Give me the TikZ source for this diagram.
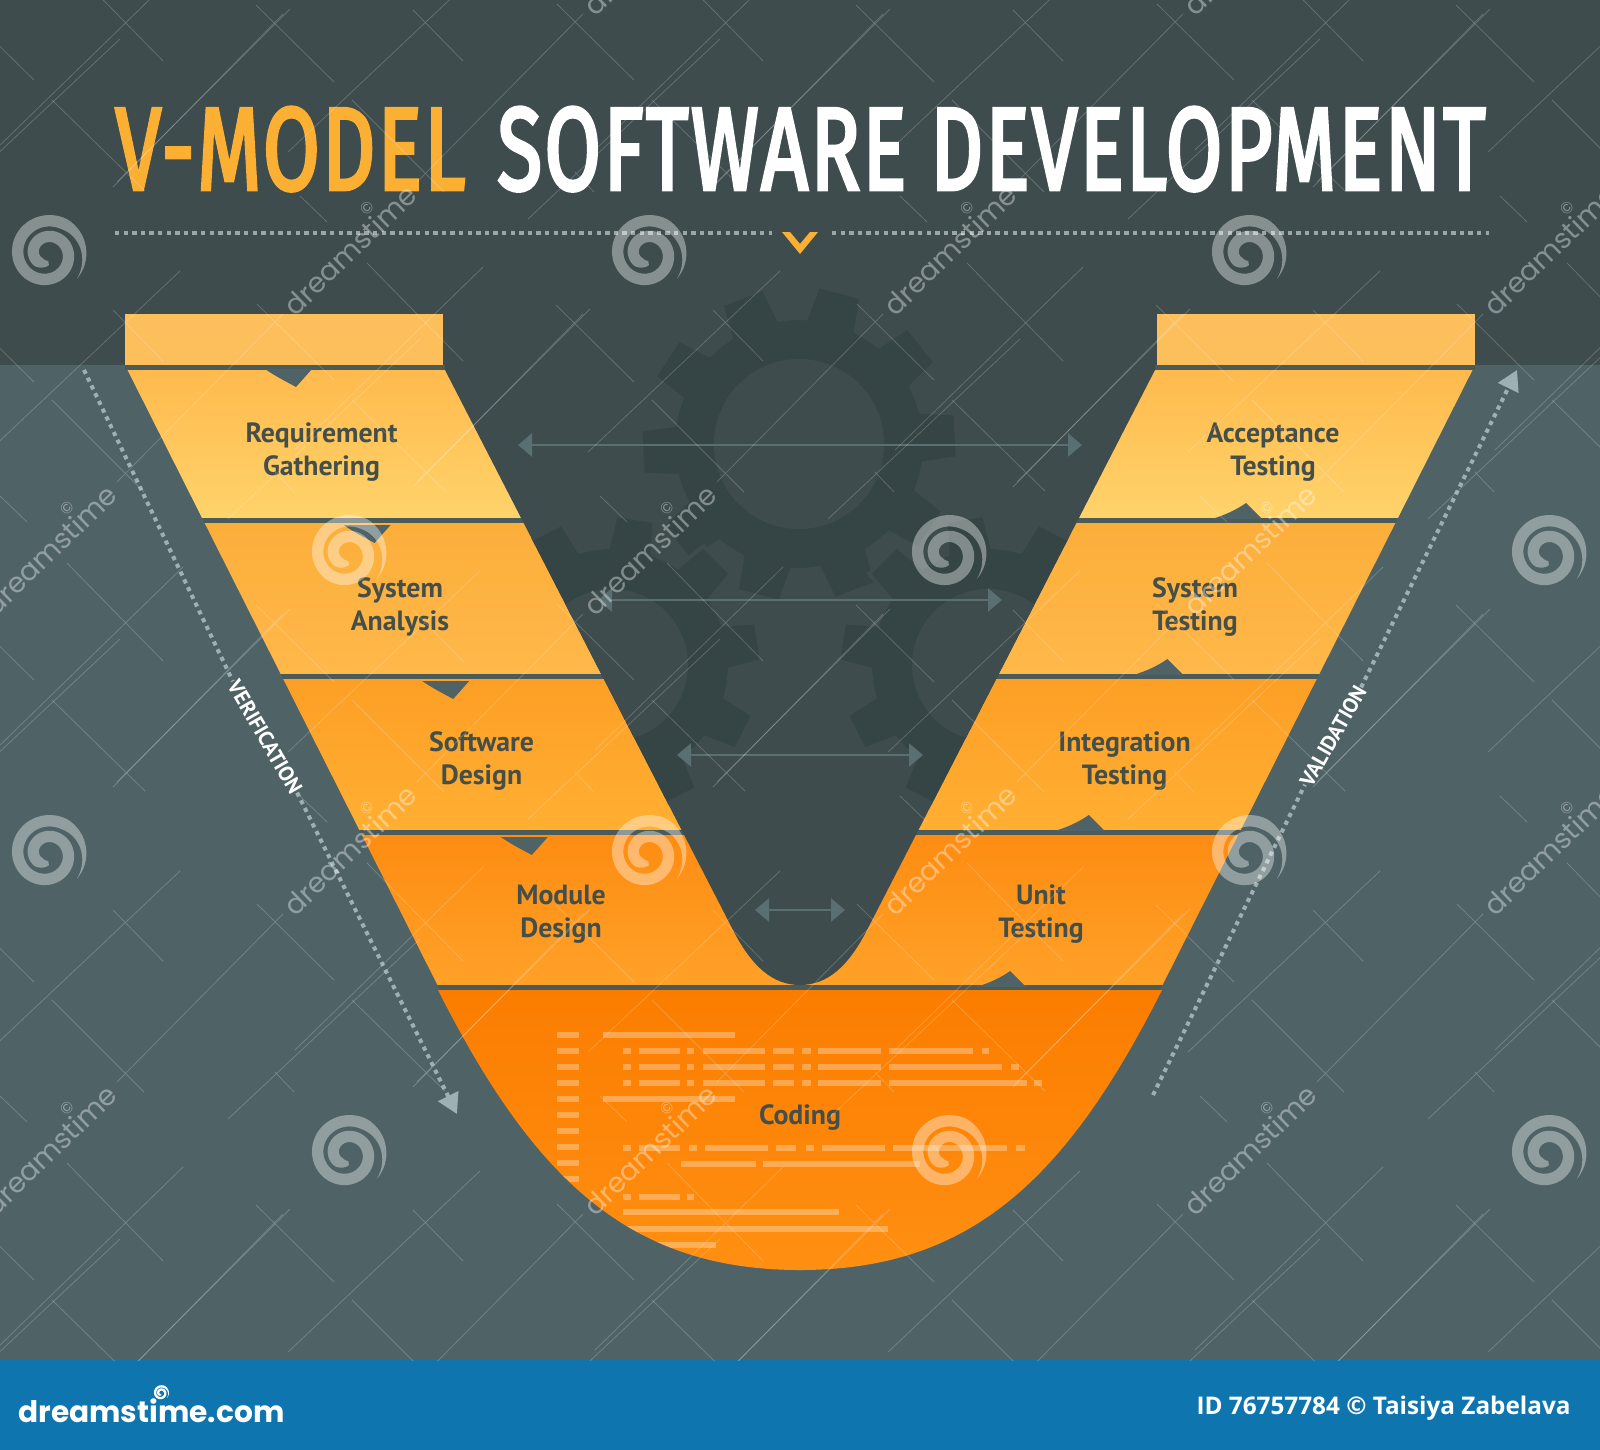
\documentclass[tikz,border=0pt]{standalone}
\usepackage{fontspec}
\usepackage{graphicx}
\usetikzlibrary{arrows.meta}
\setmainfont{PT Sans}
\newfontfamily\titlefont[FakeBold=3.5,LetterSpace=3]{Fira Sans}
\newfontfamily\wmfont{Poppins}
\newfontfamily\idfont{Open Sans}
\definecolor{headbg}{HTML}{3E4C4D}
\definecolor{lowbg}{HTML}{4F6367}
\definecolor{footbg}{HTML}{0F75AE}
\definecolor{sepc}{HTML}{4A5B58}
\definecolor{gearc}{HTML}{354444}
\definecolor{titleor}{HTML}{FBB034}
\definecolor{labelc}{HTML}{454F4A}
\definecolor{dotc}{HTML}{9FB0B3}
\definecolor{arrc}{HTML}{5A6F72}
\definecolor{rectc}{HTML}{FDBF5C}
\definecolor{bOneT}{HTML}{FFBA4D}\definecolor{bOneB}{HTML}{FFD36B}
\definecolor{bTwoT}{HTML}{FCAE3A}\definecolor{bTwoB}{HTML}{FFB84A}
\definecolor{bThrT}{HTML}{FD9F25}\definecolor{bThrB}{HTML}{FFAF33}
\definecolor{bFouT}{HTML}{FE8C12}\definecolor{bFouB}{HTML}{FFA128}
\definecolor{bFivT}{HTML}{FB7D00}\definecolor{bFivB}{HTML}{FF8F12}
\tikzset{
  declare function={
    xlf(\y)=127.5+0.504*(\y-370);
    xrf(\y)=1472.5-0.504*(\y-370);
    spr(\t)=36-0.04058*(\t+40);
    spw(\t)=min(5.3,min((\t+40)*0.053,(650-\t)*0.06+1.4));
  },
  steplabel/.style={font=\bfseries\fontsize{13.9}{16.3}\selectfont,text=labelc,align=center,inner sep=0pt},
  sidelabel/.style={font=\bfseries\fontsize{10.6}{12}\selectfont,text=white,inner sep=0pt},
  dotline/.style={draw=dotc,line width=2pt,dash pattern=on 2.1pt off 2.2pt},
  dotarrow/.style={dotline,-{Triangle[length=10pt,width=11pt,fill=dotc]}},
  bothway/.style={draw=arrc,line width=1.2pt,{Triangle[length=7pt,width=11.5pt]}-{Triangle[length=7pt,width=11.5pt]}},
  spiralmark/.pic={
    \fill[white,fill opacity=#1,scale=1.08]
      plot[domain=-40:640,samples=110] ({(spr(\x)+spw(\x))*cos(\x)},{-(spr(\x)+spw(\x))*sin(\x)})
      -- plot[domain=640:-40,samples=110] ({(spr(\x)-spw(\x))*cos(\x)},{-(spr(\x)-spw(\x))*sin(\x)}) -- cycle;
  },
  wordmark/.pic={
    \node[inner sep=0pt,rotate=44,text=white,text opacity=.38] (wm) at (0,0) {\resizebox{86pt}{!}{\wmfont dreamstime}};
    \node[inner sep=0pt,rotate=44,text=white,text opacity=.38] (wmc) at (17,-42) {\fontsize{8}{8}\selectfont\wmfont ©};
  }
}
\newcommand{\bandstrip}[4]{\shade[top color=#3,bottom color=#4] ({xlf(#1)},#1) -- ({xrf(#1)},#1) -- ({xrf(#2)},#2) -- ({xlf(#2)},#2) -- cycle;}
\newcommand{\sepstrip}[2]{\fill[sepc] ({xlf(#1)},#1) -- ({xrf(#1)},#1) -- ({xrf(#2)},#2) -- ({xlf(#2)},#2) -- cycle;}
\newcommand{\gearshape}[7]{%
  \begin{scope}[shift={(#1,#2)}]
    \filldraw[fill=gearc,#7]
      ({#6-11}:#3)
      \foreach \k in {0,...,9}{
        -- ({#6+36*\k-11}:#3) -- ({#6+36*\k-7.5}:#4) -- ({#6+36*\k+7.5}:#4) -- ({#6+36*\k+11}:#3) -- ({#6+36*\k+18}:#3)
      } -- cycle;
    \fill[headbg] (0,0) circle (#5);
  \end{scope}}
\newcommand{\codebar}[3]{\fill (#1,#3-9) rectangle (#2,#3+9);}
\newcommand{\codegroup}[1]{%
  \codebar{437}{453}{#1}\codebar{468}{548}{#1}\codebar{562}{577}{#1}\codebar{594}{716}{#1}\codebar{732}{772}{#1}\codebar{788}{805}{#1}\codebar{820}{942}{#1}}
\newcommand{\Ushape}{(438,990) .. controls (534,1180) and (630,1270) .. (800,1270) .. controls (970,1270) and (1066,1180) .. (1162,990) -- cycle}
\begin{document}
\begin{tikzpicture}[x=0.5pt,y=-0.5pt]
\useasboundingbox (0,0) rectangle (1600,1450);
% backgrounds
\fill[headbg] (0,0) rectangle (1600,365);
\fill[lowbg] (0,365) rectangle (1600,1360);
\fill[footbg] (0,1360) rectangle (1600,1450);
% title
\node[anchor=north west,inner sep=0pt,text=titleor] (t1) at (115,107) {\resizebox{175pt}{41pt}{\titlefont V-MODEL}};
\node[anchor=north west,inner sep=0pt,text=white] (t2) at (497,107) {\resizebox{494pt}{41pt}{\titlefont SOFTWARE DEVELOPMENT}};
\coordinate (dl1) at (115,233); \coordinate (dl2) at (772,233);
\coordinate (dr1) at (832,233); \coordinate (dr2) at (1489,233);
\draw[draw=white!50!headbg,line width=2.2pt,dash pattern=on 2.2pt off 2.1pt] (dl1) -- (dl2);
\draw[draw=white!50!headbg,line width=2.2pt,dash pattern=on 2.2pt off 2.1pt] (dr1) -- (dr2);
\fill[titleor] (782,232) -- (790,232) -- (800,244) -- (810,232) -- (818,232) -- (800,254) -- cycle;
% top rectangles
\fill[rectc] (125,314) rectangle (443,364.5);
\fill[rectc] (1157,314) rectangle (1475,364.5);
\fill[sepc] (125,364.5) rectangle (445,370);
\fill[sepc] (1155,364.5) rectangle (1475,370);
% bands
\bandstrip{370}{518}{bOneT}{bOneB}
\sepstrip{518}{523}
\bandstrip{523}{674}{bTwoT}{bTwoB}
\sepstrip{674}{679}
\bandstrip{679}{830}{bThrT}{bThrB}
\sepstrip{830}{835}
\bandstrip{835}{985}{bFouT}{bFouB}
\sepstrip{985}{990}
\shade[top color=bFivT,bottom color=bFivB] \Ushape;
% code bars on the coding band
\begin{scope}
\clip \Ushape;
\begin{scope}[shift={(400,960)},x=0.2551pt,y=-0.16667pt,white,fill opacity=.3]
\foreach \r in {225,273,321,369,417,465,513,562,610,658}{\codebar{308}{350}{\r}}
\codebar{397}{657}{225}
\codegroup{273}\codebar{958}{1124}{273}\codebar{1140}{1155}{273}
\codegroup{321}\codebar{958}{1180}{321}\codebar{1197}{1213}{321}
\codegroup{369}\codebar{958}{1228}{369}\codebar{1243}{1258}{369}
\codebar{397}{657}{417}
\codebar{437}{453}{565}\codebar{468}{548}{565}\codebar{566}{582}{565}\codebar{598}{721}{565}\codebar{737}{777}{565}\codebar{795}{811}{565}\codebar{828}{950}{565}\codebar{967}{1190}{565}\codebar{1207}{1225}{565}
\codebar{550}{698}{613}\codebar{712}{1020}{613}
\codebar{437}{453}{710}\codebar{468}{548}{710}\codebar{562}{577}{710}
\codebar{437}{860}{757}
\codebar{437}{957}{806}
\codebar{437}{620}{854}
\end{scope}
\end{scope}
% inner V
\fill[headbg] (445,364) -- (445,370) -- (733,930) .. controls (752,967) and (773,985) .. (800,985) .. controls (827,985) and (848,967) .. (867,930) -- (1155,370) -- (1155,364) -- cycle;
% gears
\begin{scope}
\clip (445,240) -- (445,370) -- (733,930) .. controls (752,967) and (773,985) .. (800,985) .. controls (827,985) and (848,967) .. (867,930) -- (1155,370) -- (1155,240) -- cycle;
\gearshape{799}{444}{124}{157}{85}{-3}{draw=none}
\gearshape{612}{665}{118}{150}{76}{-9}{draw=headbg,line width=2pt}
\gearshape{988}{665}{118}{150}{76}{-171}{draw=headbg,line width=2pt}
\end{scope}
% notches
\foreach \i in {0,1,2,3}{
  \fill[lowbg,shift={({78.6*\i},{156*\i})}] (265,369) -- (312,369) -- (296,387) .. controls (285,381) and (275,376) .. (265,369) -- cycle;
  \fill[lowbg,shift={({-78.6*\i},{156*\i})}] (1212,519) .. controls (1225,515) and (1236,510) .. (1246,503) -- (1262,519) -- cycle;
}
% width arrows
\coordinate (aL1) at (518,445); \coordinate (aR1) at (1082,445);
\coordinate (aL2) at (598,600); \coordinate (aR2) at (1002,600);
\coordinate (aL3) at (677,755); \coordinate (aR3) at (923,755);
\coordinate (aL4) at (755,910); \coordinate (aR4) at (845,910);
\draw[bothway] (aL1) -- (aR1);
\draw[bothway] (aL2) -- (aR2);
\draw[bothway] (aL3) -- (aR3);
\draw[bothway] (aL4) -- (aR4);
% step labels
\node[steplabel] (req) at (321.5,452) {Requirement\\Gathering};
\node[steplabel] (ana) at (400,607) {System\\Analysis};
\node[steplabel] (sof) at (481.5,761) {Software\\Design};
\node[steplabel] (mod) at (561,914) {Module\\Design};
\node[steplabel] (acc) at (1273,452) {Acceptance\\Testing};
\node[steplabel] (sys) at (1195,607) {System\\Testing};
\node[steplabel] (int) at (1124.5,761) {Integration\\Testing};
\node[steplabel] (uni) at (1041,914) {Unit\\Testing};
\node[steplabel] (cod) at (800,1118) {Coding};
% side labels and dotted arrows
\node[sidelabel,rotate=-60] (ver) at (265,737) {VERIFICATION};
\node[sidelabel,rotate=60] (val) at (1333,736) {VALIDATION};
\coordinate (vs) at (84,370); \coordinate (ve) at (457,1114);
\coordinate (ws) at (1153,1095); \coordinate (we) at (1517,370);
\draw[dotline] (vs) -- (ver.west);
\draw[dotarrow] (ver.east) -- (ve);
\draw[dotline] (ws) -- (val.west);
\draw[dotarrow] (val.east) -- (we);
% repeating overlay
\begin{scope}
\clip (0,0) rectangle (1600,1360);
\foreach \u in {-4,...,6}{\foreach \v in {-4,...,2}{
  \pgfmathtruncatemacro{\parityval}{mod(\u+\v+100,2)}
  \ifnum\parityval=0
  \begin{scope}[shift={({300*\u},{300*\v})}]
    \draw[white,draw opacity=.2,line width=.4pt]
      (52,700) -- (145,791)
      (283,614) -- (113,787)
      (180,871) -- (-12,1052)
      (113,910) -- (163,961)
      (52,1000) -- (144,1092)
      (283,914) -- (117,1082)
      (257,904) -- (334,980)
      (420,939) -- (228,1119)
      (275,1072) -- (294,1092)
      (67,1163) -- (163,1261)
      (183,1167) -- (-5,1350)
      (0,1096) -- (27,1122)
      (256,1205) -- (334,1282)
      (290,1209) -- (117,1382);
  \end{scope}
  \fi
}}
\foreach \p/\q in {47/254,647/254,1247/254,347/554,947/554,1547/554,47/854,647/854,1247/854,347/1154,947/1154,1547/1154}{
  \pic at (\p,\q) {spiralmark=.38};
}
\foreach \p/\q in {650/-50,1250/-50,350/250,950/250,1550/250,50/550,650/550,1250/550,350/850,950/850,1550/850,50/1150,650/1150,1250/1150}{
  \pic at (\p,\q) {wordmark};
}
\end{scope}
% footer
\node[anchor=west,inner sep=0pt,text=white] (fl) at (18,1411) {\resizebox{133pt}{!}{\wmfont\bfseries dreamstime.com}};
\pic[scale=.2] at (161,1393) {spiralmark=1};
\node[anchor=east,inner sep=0pt,text=white] (fr) at (1571,1408) {\resizebox{187pt}{!}{\idfont\bfseries ID 76757784 © Taisiya Zabelava}};
\end{tikzpicture}
\end{document}
